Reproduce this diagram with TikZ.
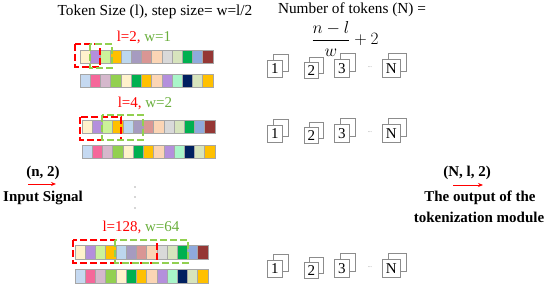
\documentclass[tikz,border=0pt]{standalone}
\usepackage{amsmath}
\usepackage{fontspec}
\setmainfont{Liberation Serif}
\usetikzlibrary{arrows.meta}
\definecolor{ty}{HTML}{FFF2CC}
\definecolor{pu}{HTML}{B48FDC}
\definecolor{li}{HTML}{CCF29A}
\definecolor{go}{HTML}{FFC000}
\definecolor{lb}{HTML}{BDD7EE}
\definecolor{gp}{HTML}{A69BC0}
\definecolor{dr}{HTML}{D99694}
\definecolor{pe}{HTML}{FBD5B5}
\definecolor{lg}{HTML}{D9D9D9}
\definecolor{sa}{HTML}{D7E4BD}
\definecolor{gr}{HTML}{00B050}
\definecolor{cb}{HTML}{8FAADC}
\definecolor{br}{HTML}{953735}
\definecolor{lbb}{HTML}{C5D9F1}
\definecolor{pk}{HTML}{F5679A}
\definecolor{ma}{HTML}{D5B8CC}
\definecolor{gn}{HTML}{92D050}
\definecolor{mi}{HTML}{A9F5C9}
\definecolor{nv}{HTML}{002060}
\definecolor{txtgreen}{HTML}{6AAF3D}
\definecolor{boxgreen}{HTML}{92D050}
\definecolor{cellgray}{HTML}{A6A6A6}
\definecolor{tokgray}{HTML}{8C8C8C}
\newcommand{\topstrip}[2]{%
  \foreach \c [count=\i from 0] in {ty,pu,li,go,lb,gp,dr,pe,lg,sa,gr,cb,br}
    \filldraw[fill=\c,draw=cellgray,line width=0.6pt] (#1+\i*10.23,#2) rectangle ++(10.23,13.5);}
\newcommand{\botstrip}[2]{%
  \foreach \c [count=\i from 0] in {lbb,pk,ma,gn,ty,gr,go,pe,pu,mi,nv,sa,go}
    \filldraw[fill=\c,draw=cellgray,line width=0.6pt] (#1+\i*10.23,#2) rectangle ++(10.23,13.5);}
\newcommand{\tokpair}[7]{% name, x, y, w, h, dx/dy offset, label
  \node[tokback,minimum width=#4,minimum height=#5,anchor=north west] (#1b) at (#2+#6,#3-#6) {};
  \node[tokfront,minimum width=#4,minimum height=#5,anchor=north west] (#1) at (#2,#3) {#7};}
\newcommand{\tokrow}[2]{% prefix, yshift
  \tokpair{#1a}{267}{60+#2}{15pt}{17pt}{6}{1}
  \tokpair{#1b}{304}{62+#2}{14pt}{16pt}{4.5}{2}
  \tokpair{#1c}{334}{59+#2}{15pt}{18pt}{6}{3}
  \node[font=\fontsize{5}{5}\selectfont,text=black!70] (#1d) at (370,67+#2) {...};
  \tokpair{#1n}{382}{59+#2}{18pt}{18pt}{6}{N}}
\begin{document}
\begin{tikzpicture}[x=1pt,y=-1pt,
  lbl/.style={inner sep=0pt,font=\fontsize{15.3}{16}\selectfont},
  clbl/.style={inner sep=0pt,font=\fontsize{15}{16}\selectfont},
  bold/.style={inner sep=0pt,font=\fontsize{15}{16}\selectfont\bfseries},
  reddash/.style={draw=red,line width=1.6pt,dash pattern=on 7pt off 3pt},
  greendash/.style={draw=boxgreen,line width=1.4pt,dash pattern=on 7pt off 3pt},
  tokback/.style={draw=tokgray,line width=0.6pt,fill=white,inner sep=0pt},
  tokfront/.style={draw=tokgray,line width=0.6pt,fill=white,inner sep=0pt,font=\fontsize{15}{15}\selectfont},
  sigarrow/.style={draw=red,line width=0.9pt,-{Stealth[length=5pt,width=4pt]}}]
\useasboundingbox (0,0) rectangle (550,291);
% titles
\node[lbl] (title) at (155,12) {Token Size (l), step size= w=l/2};
\node[lbl] (ntitle) at (352,9.5) {Number of tokens (N) =};
\node[inner sep=0pt,font=\fontsize{17.28}{18}\selectfont] (formula) at (345,39) {$\dfrac{n-l}{w}+2$};
% labels
\node[clbl] (lab1) at (144,37) {\textcolor{red}{l=2,} \textcolor{txtgreen}{w=1}};
\node[clbl] (lab2) at (145,103) {\textcolor{red}{l=4,} \textcolor{txtgreen}{w=2}};
\node[clbl] (lab3) at (141,227) {\textcolor{red}{l=128,} \textcolor{txtgreen}{w=64}};
% strips
\topstrip{80}{50}
\botstrip{80}{74}
\topstrip{82}{120}
\botstrip{82}{145}
\topstrip{75}{245.5}
\botstrip{75}{269.5}
% dashed windows
\draw[reddash] (75,44) rectangle (100,67);
\draw[greendash] (90,44) rectangle (112,68);
\draw[reddash] (80,117) rectangle (121,140);
\draw[greendash] (102,115) rectangle (143,140);
\draw[reddash] (73,240) rectangle (157,263);
\draw[greendash] (115,240) rectangle (188,263);
% vertical dots
\foreach \yy [count=\k] in {187,197,208}
  \fill[black!70] (135,\yy) circle (0.6pt);
% tokens
\tokrow{r1}{0}
\tokrow{r2}{65}
\tokrow{r3}{200}
% input
\node[bold] (inshape) at (43,173) {(n, 2)};
\coordinate (ina) at (28,184);
\coordinate (inb) at (56,184);
\draw[sigarrow] (ina) -- (inb);
\node[bold] (insig) at (43,198) {Input Signal};
% output
\node[bold] (outshape) at (467,173) {(N, l, 2)};
\coordinate (outa) at (453,185);
\coordinate (outb) at (483,185);
\draw[sigarrow] (outa) -- (outb);
\node[bold] (out1) at (480,198) {The output of the};
\node[bold] (out2) at (479,217) {tokenization module};
\end{tikzpicture}
\end{document}
